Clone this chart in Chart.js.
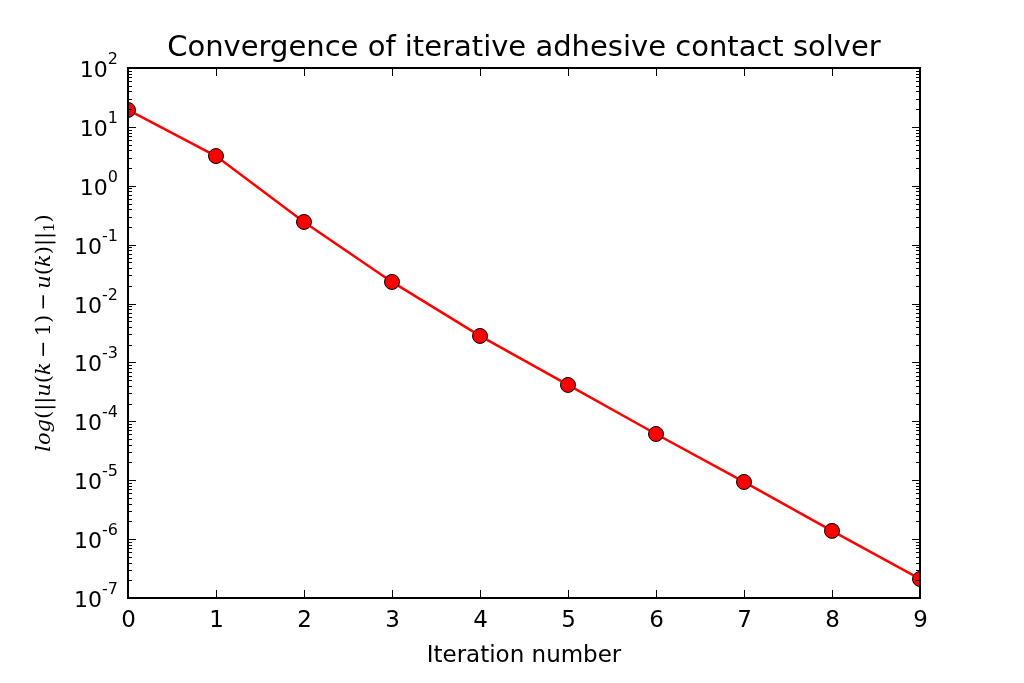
<!DOCTYPE html>
<html>
<head>
<meta charset="utf-8">
<script src="https://cdn.jsdelivr.net/npm/chart.js@4/dist/chart.umd.min.js"></script>
<style>
  html, body { margin: 0; padding: 0; background: #fff; }
  #c { display: block; }
</style>
</head>
<body>
<canvas id="c" width="1024" height="683"></canvas>
<script>
'use strict';
// values
const iterations = [0, 1, 2, 3, 4, 5, 6, 7, 8, 9];
const residuals = [19.4, 3.2, 0.243, 0.0233, 0.00282, 4.15e-4, 6.1e-5, 9.35e-6, 1.38e-6, 2.1e-7];
const xTicks = [0, 1, 2, 3, 4, 5, 6, 7, 8, 9];
const yExponents = [2, 1, 0, -1, -2, -3, -4, -5, -6, -7];

const titleText = 'Convergence of iterative adhesive contact solver';
const xLabel = 'Iteration number';
// y label as math pieces: [text, style]
const yLabelParts = [
  ['log', 'i'], ['(', 'r'], ['||', 'r'], ['u', 'i'], ['(', 'r'], ['k', 'i'], ['\u2009\u2212\u2009', 'r'], ['1', 'r'], [')', 'r'],
  ['\u2009\u2212\u2009', 'r'], ['u', 'i'], ['(', 'r'], ['k', 'i'], [')', 'r'], ['||', 'r'], ['1', 'sub'], [')', 'r']
];

const SANS = '"DejaVu Sans", sans-serif';
const SERIF = '"DejaVu Serif", serif';

function drawYLabel(ctx, cx, cy){
  const size = 21;
  const fontOf = st => st === 'i' ? `italic ${size}px ${SERIF}` : st === 'sub' ? `${Math.round(size*0.7)}px ${SERIF}` : `${size}px ${SERIF}`;
  let total = 0;
  yLabelParts.forEach(p => { ctx.font = fontOf(p[1]); total += ctx.measureText(p[0]).width; });
  ctx.save();
  ctx.translate(cx, cy);
  ctx.rotate(-Math.PI/2);
  ctx.fillStyle = '#000';
  ctx.textBaseline = 'middle';
  ctx.textAlign = 'left';
  let x = -total/2;
  yLabelParts.forEach(p => {
    ctx.font = fontOf(p[1]);
    ctx.fillText(p[0], x, p[1] === 'sub' ? 5 : 0);
    x += ctx.measureText(p[0]).width;
  });
  ctx.restore();
}

const axesPlugin = {
  id: 'mplAxes',
  afterDatasetsDraw(chart){
    const ctx = chart.ctx;
    const {left, right, top, bottom} = chart.chartArea;
    const xs = chart.scales.x, ys = chart.scales.y;
    ctx.save();
    ctx.strokeStyle = '#000';
    ctx.fillStyle = '#000';

    // x ticks (inward, bottom and top)
    ctx.lineWidth = 1;
    ctx.font = `23px ${SANS}`;
    ctx.textAlign = 'center';
    ctx.textBaseline = 'alphabetic';
    xTicks.forEach(v => {
      const px = Math.round(xs.getPixelForValue(v)) + 0.5;
      ctx.beginPath();
      ctx.moveTo(px, bottom); ctx.lineTo(px, bottom - 8);
      ctx.moveTo(px, top); ctx.lineTo(px, top + 8);
      ctx.stroke();
      ctx.fillText(String(v), px, bottom + 29);
    });

    // y ticks, major and minor (log)
    yExponents.forEach(e => {
      const py = Math.round(ys.getPixelForValue(Math.pow(10, e))) + 0.5;
      ctx.beginPath();
      ctx.moveTo(left, py); ctx.lineTo(left + 8, py);
      ctx.moveTo(right, py); ctx.lineTo(right - 8, py);
      ctx.stroke();
      if (e > yExponents[yExponents.length - 1]) {
        for (let m = 2; m <= 9; m++) {
          const my = Math.round(ys.getPixelForValue(m * Math.pow(10, e - 1))) + 0.5;
          ctx.beginPath();
          ctx.moveTo(left, my); ctx.lineTo(left + 4, my);
          ctx.moveTo(right, my); ctx.lineTo(right - 4, my);
          ctx.stroke();
        }
      }
      // label 10^e
      const expStr = e < 0 ? '-' + Math.abs(e) : String(e);
      ctx.textAlign = 'right';
      ctx.textBaseline = 'alphabetic';
      ctx.font = `16px ${SANS}`;
      const ew = ctx.measureText(expStr).width;
      ctx.fillText(expStr, left - 10, py - 5);
      ctx.font = `22px ${SANS}`;
      ctx.fillText('10', left - 10 - ew, py + 8);
    });

    // frame
    ctx.lineWidth = 2;
    ctx.strokeRect(left, top, right - left, bottom - top);

    // title and axis labels
    ctx.textAlign = 'center';
    ctx.textBaseline = 'alphabetic';
    ctx.font = `29px ${SANS}`;
    ctx.fillText(titleText, (left + right) / 2, 56);
    ctx.font = `23px ${SANS}`;
    ctx.fillText(xLabel, (left + right) / 2, 662);
    drawYLabel(ctx, 45, (top + bottom) / 2);
    ctx.restore();
  }
};

const points = iterations.map((x, i) => ({x: x, y: residuals[i]}));

new Chart(document.getElementById('c'), {
  type: 'line',
  data: {
    datasets: [{
      data: points,
      borderColor: '#ff0000',
      borderWidth: 2.5,
      pointRadius: 7.5,
      pointHoverRadius: 7.5,
      pointBackgroundColor: '#ff0000',
      pointBorderColor: '#000000',
      pointBorderWidth: 1,
      tension: 0,
      clip: 0
    }]
  },
  options: {
    responsive: false,
    animation: false,
    devicePixelRatio: 1,
    layout: { padding: { left: 128, right: 104, top: 68, bottom: 85 } },
    plugins: { legend: { display: false }, title: { display: false }, tooltip: { enabled: false } },
    scales: {
      x: { type: 'linear', min: 0, max: 9, display: false },
      y: { type: 'logarithmic', min: 1e-7, max: 1e2, display: false }
    }
  },
  plugins: [axesPlugin]
});
</script>
</body>
</html>
